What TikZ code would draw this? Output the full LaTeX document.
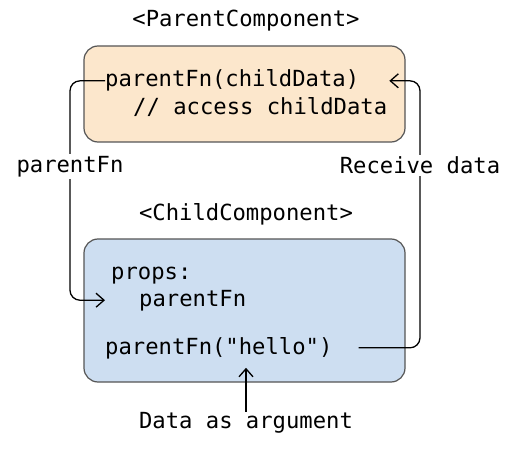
\documentclass[tikz,border=0pt]{standalone}
\usepackage{fontspec}
\setmonofont{DejaVu Sans Mono}
\usetikzlibrary{arrows.meta}
\definecolor{parentfill}{HTML}{FCE7CC}
\definecolor{childfill}{HTML}{CDDEF1}
\definecolor{boxline}{HTML}{555555}
\tikzset{
  box/.style={draw=boxline, line width=1.2pt, rounded corners=14pt},
  code/.style={inner sep=0pt, font=\ttfamily\fontsize{22.2}{25}\selectfont, anchor=base west},
  title/.style={inner sep=0pt, font=\ttfamily\fontsize{22.2}{25}\selectfont, anchor=base},
  lbl/.style={fill=white, inner sep=2pt, font=\ttfamily\fontsize{22.2}{25}\selectfont, anchor=base},
  conn/.style={draw=black, line width=1.3pt, rounded corners=10pt},
  arr/.style={conn, -{Straight Barb[length=8pt,width=14pt,line width=1.3pt]}}
}
\begin{document}
\begin{tikzpicture}[x=1pt,y=-1pt]
\useasboundingbox (0,0) rectangle (531,460);
% boxes
\path[box, fill=parentfill] (84,46) rectangle (405,142);
\path[box, fill=childfill] (84,239) rectangle (405,382);
% titles
\node[title] (ptitle) at (246,27) {<ParentComponent>};
\node[title] (ctitle) at (246,220) {<ChildComponent>};
% code
\node[code] (p1) at (105,87) {parentFn(childData)};
\node[code] (p2) at (133,114) {// access childData};
\node[code] (props) at (111,279) {props:};
\node[code] (pf) at (139,306) {parentFn};
\node[code] (h) at (105,354) {parentFn("hello")};
\node[title] (data) at (246,428) {Data as argument};
% connector coordinates
\coordinate (lc) at (70,200);
\coordinate (rc) at (420,200);
\coordinate (lt) at ([xshift=-34pt]pf.west);
\coordinate (rs) at ([xshift=26pt]h.east);
\coordinate (rt) at ([xshift=30pt]p1.east);
\coordinate (dt) at ([yshift=-9pt]data.north |- h.south);
% connectors
\draw[arr] (p1.west) -| (lc) |- (lt);
\draw[arr] (rs) -| (rc) |- (rt);
\draw[arr] (data.north) -- (dt);
% labels
\node[lbl] (lp) at (70,172) {parentFn};
\node[lbl] (lr) at (420,174) {Receive data};
\end{tikzpicture}
\end{document}
